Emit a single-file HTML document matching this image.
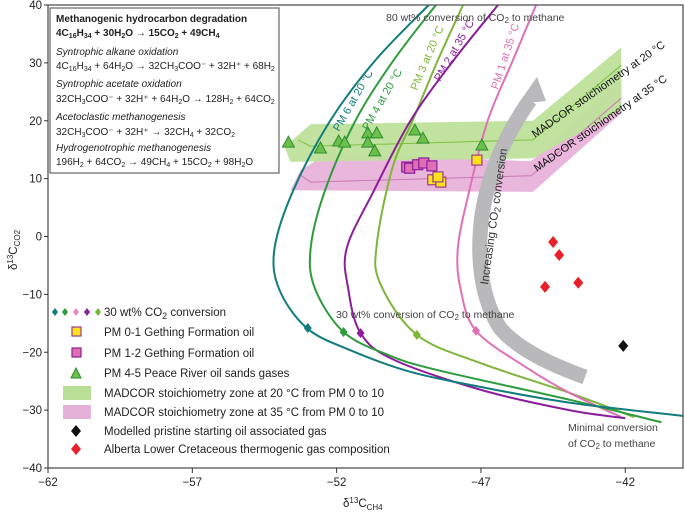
<!DOCTYPE html>
<html><head><meta charset="utf-8"><style>
html,body{margin:0;padding:0;background:#fff;}
svg{display:block;font-family:"Liberation Sans",Arial,sans-serif;}
</style></head><body>
<svg id="chart" width="685" height="517" viewBox="0 0 685 517">
<g id="bands"></g>
<path d="M585,377 C560,368 520,352 500,328 C482,300 476,260 482,215 C488,175 505,135 530,100" fill="none" stroke="#b9b9bb" stroke-width="15"/>
<polygon points="518,104 546,101 537,77" fill="#b9b9bb"/>
<text transform="translate(488,285) rotate(-82)" font-size="11.5" fill="#333">Increasing CO<tspan font-size="9" dy="2">2</tspan><tspan dy="-2"> conversion</tspan></text>
<g id="curves"></g>
<g id="points"></g>
<g id="axes"></g>
<text transform="translate(339,132) rotate(-60)" font-size="11" fill="#137c7c">PM 6 at 20 °C</text>
<text transform="translate(368,131) rotate(-60)" font-size="11" fill="#2e9b3c">PM 4 at 20 °C</text>
<text transform="translate(417,91) rotate(-67)" font-size="11" fill="#7fb53a">PM 3 at 20 °C</text>
<text transform="translate(440,82) rotate(-60)" font-size="11" fill="#8b1e9a">PM 2 at 35 °C</text>
<text transform="translate(498,90) rotate(-72)" font-size="11" fill="#e070b5">PM 1 at 35 °C</text>
<text transform="translate(535,138) rotate(-35)" font-size="11" fill="#111">MADCOR stoichiometry at 20 °C</text>
<text transform="translate(537,172) rotate(-35)" font-size="11" fill="#111">MADCOR stoichiometry at 35 °C</text>
<text x="386" y="21" font-size="10.5" fill="#444">80 wt% conversion of CO<tspan font-size="8" dy="2">2</tspan><tspan dy="-2"> to methane</tspan></text>
<text x="336" y="318" font-size="10.5" fill="#444">30 wt% conversion of CO<tspan font-size="8" dy="2">2</tspan><tspan dy="-2"> to methane</tspan></text>
<text x="568" y="431" font-size="10.5" fill="#444">Minimal conversion</text>
<text x="568" y="447" font-size="10.5" fill="#444">of CO<tspan font-size="8" dy="2">2</tspan><tspan dy="-2"> to methane</tspan></text>
<g font-size="10" fill="#222">
<rect x="50" y="8" width="229" height="165" fill="#fff" stroke="#666" stroke-width="1.2"/>
<text x="56" y="22" font-weight="bold">Methanogenic hydrocarbon degradation</text>
<text x="56" y="36" font-weight="bold">4C<tspan font-size="7" dy="2">16</tspan><tspan dy="-2">H</tspan><tspan font-size="7" dy="2">34</tspan><tspan dy="-2"> + 30H</tspan><tspan font-size="7" dy="2">2</tspan><tspan dy="-2">O → 15CO</tspan><tspan font-size="7" dy="2">2</tspan><tspan dy="-2"> + 49CH</tspan><tspan font-size="7" dy="2">4</tspan></text>
<text x="56" y="55" font-style="italic">Syntrophic alkane oxidation</text>
<text x="56" y="69">4C<tspan font-size="7" dy="2">16</tspan><tspan dy="-2">H</tspan><tspan font-size="7" dy="2">34</tspan><tspan dy="-2"> + 64H</tspan><tspan font-size="7" dy="2">2</tspan><tspan dy="-2">O → 32CH</tspan><tspan font-size="7" dy="2">3</tspan><tspan dy="-2">COO⁻ + 32H⁺ + 68H</tspan><tspan font-size="7" dy="2">2</tspan></text>
<text x="56" y="87" font-style="italic">Syntrophic acetate oxidation</text>
<text x="56" y="102">32CH<tspan font-size="7" dy="2">3</tspan><tspan dy="-2">COO⁻ + 32H⁺ + 64H</tspan><tspan font-size="7" dy="2">2</tspan><tspan dy="-2">O → 128H</tspan><tspan font-size="7" dy="2">2</tspan><tspan dy="-2"> + 64CO</tspan><tspan font-size="7" dy="2">2</tspan></text>
<text x="56" y="120" font-style="italic">Acetoclastic methanogenesis</text>
<text x="56" y="135">32CH<tspan font-size="7" dy="2">3</tspan><tspan dy="-2">COO⁻ + 32H⁺ → 32CH</tspan><tspan font-size="7" dy="2">4</tspan><tspan dy="-2"> + 32CO</tspan><tspan font-size="7" dy="2">2</tspan></text>
<text x="56" y="151" font-style="italic">Hydrogenotrophic methanogenesis</text>
<text x="56" y="165">196H<tspan font-size="7" dy="2">2</tspan><tspan dy="-2"> + 64CO</tspan><tspan font-size="7" dy="2">2</tspan><tspan dy="-2"> → 49CH</tspan><tspan font-size="7" dy="2">4</tspan><tspan dy="-2"> + 15CO</tspan><tspan font-size="7" dy="2">2</tspan><tspan dy="-2"> + 98H</tspan><tspan font-size="7" dy="2">2</tspan><tspan dy="-2">O</tspan></text>
</g>
<g font-size="11.5" fill="#222">
<g>
<path d="M55,308 l3,4 l-3,4 l-3,-4z" fill="#137c7c"/><path d="M65,308 l3,4 l-3,4 l-3,-4z" fill="#2e9b3c"/><path d="M76,308 l3,4 l-3,4 l-3,-4z" fill="#e58cc6"/><path d="M87,308 l3,4 l-3,4 l-3,-4z" fill="#8b1e9a"/><path d="M98,308 l3,4 l-3,4 l-3,-4z" fill="#7fb53a"/>
<text x="104" y="316">30 wt% CO<tspan font-size="9" dy="3">2</tspan><tspan dy="-3"> conversion</tspan></text></g>
<g><rect x="72" y="327" width="9" height="9" fill="#ffe21a" stroke="#9a3c8c" stroke-width="1.2"/><text x="104" y="336">PM 0-1 Gething Formation oil</text></g>
<g><rect x="72" y="348" width="9" height="9" fill="#e070b5" stroke="#8b1e9a" stroke-width="1.2"/><text x="104" y="357">PM 1-2 Gething Formation oil</text></g>
<g><polygon points="71,378 76,368 81,378" fill="#6cbf4a" stroke="#2e8b2e"/><text x="104" y="377">PM 4-5 Peace River oil sands gases</text></g>
<g><rect x="63" y="386" width="28" height="14" fill="#b9de95"/><text x="104" y="397">MADCOR stoichiometry zone at 20 °C from PM 0 to 10</text></g>
<g><rect x="63" y="405" width="28" height="14" fill="#e4b1d8"/><text x="104" y="416">MADCOR stoichiometry zone at 35 °C from PM 0 to 10</text></g>
<g><path d="M76,425 l5,6 l-5,6 l-5,-6z" fill="#111"/><text x="104" y="435">Modelled pristine starting oil associated gas</text></g>
<g><path d="M76,443 l5,6 l-5,6 l-5,-6z" fill="#e8202a"/><text x="104" y="453">Alberta Lower Cretaceous thermogenic gas composition</text></g>
</g>
<text x="343" y="507" font-size="11.5" fill="#222">δ<tspan font-size="8" dy="-4">13</tspan><tspan dy="4">C</tspan><tspan font-size="8" dy="3">CH4</tspan></text>
<text transform="translate(17,270) rotate(-90)" font-size="11.5" fill="#222">δ<tspan font-size="8" dy="-4">13</tspan><tspan dy="4">C</tspan><tspan font-size="8" dy="3">CO2</tspan></text>
</svg>
<script>
var xTicks=[-62,-57,-52,-47,-42];
var yTicks=[40,30,20,10,0,-10,-20,-30,-40];
var pm6=[[-48.81,40],[-50.65,30.5],[-52.21,20.1],[-53.5,8],[-54.15,-2],[-54.0,-9],[-53.04,-15.8],[-51.55,-19.6],[-49.43,-23.4],[-47,-26],[-43.94,-28.7],[-40,-31]];
var pm4=[[-48.56,40],[-50.02,30.5],[-51.34,20.1],[-52.4,8],[-52.9,-2],[-52.75,-9],[-51.76,-16.5],[-50.2,-20.5],[-48.49,-23.1],[-43.94,-28.2],[-40.75,-32.1]];
var pm3=[[-47.62,40],[-48.49,30.5],[-49.36,20.1],[-50.06,12],[-50.6,-1],[-50.5,-8],[-49.22,-17],[-47,-21.9],[-43.94,-27],[-41.69,-31.2]];
var pm2=[[-46.41,40],[-47.94,30.5],[-49.43,20.1],[-50.7,8],[-51.65,-2],[-51.6,-9],[-51.17,-16.7],[-50.02,-21.3],[-47,-26.5],[-43.94,-30],[-42,-31.4]];
var pm1=[[-45.09,40],[-45.89,30.5],[-46.76,20.1],[-47.4,8],[-47.8,-2],[-47.7,-9.2],[-47.17,-16.3],[-45.47,-22.5],[-43.94,-27],[-42.14,-31.2]];
var diamonds30=[[-53.0,-15.8],[-51.76,-16.5],[-51.17,-16.7],[-49.22,-17],[-47.17,-16.3]];
var greenBand=[[-52.9,19.4],[-45.2,20.0],[-42.14,32.7],[-42.14,21.9],[-45.2,13.5],[-53.6,12.9],[-53.8,15.5]];
var pinkBand=[[-52.28,14.4],[-45.26,13.0],[-42.14,27.0],[-42.14,21.3],[-45.2,7.7],[-53.6,8.0],[-53.25,11.5]];
var greenLine=[[-53.35,16.7],[-52.9,15.6],[-45.2,16.7],[-42.14,29.6]];
var pinkLine=[[-53.25,10.6],[-52.9,9.4],[-45.26,10.5],[-42.14,23.9]];
var triangles=[[-53.67,16.3],[-52.56,15.3],[-51.93,16.5],[-51.72,16.3],[-50.92,17.9],[-50.61,17.9],[-50.92,16.3],[-50.68,14.8],[-49.29,18.4],[-49.01,17.0],[-46.97,15.8]];
var magentaSq=[[-49.57,12.0],[-49.47,11.8],[-49.19,12.4],[-48.98,12.7],[-48.70,12.2]];
var yellowSq=[[-48.67,9.8],[-48.39,9.4],[-48.49,10.3],[-47.14,13.2]];
var redPts=[[-44.5,-0.95],[-44.29,-3.2],[-44.78,-8.7],[-43.63,-8.0]];
var blackPts=[[-42.07,-18.9]];

var X0=48,X1=683,Y0=5,Y1=468,XMIN=-62,XMAX=-40,YMIN=-40,YMAX=40;
function sx(v){return X0+(v-XMIN)/(XMAX-XMIN)*(X1-X0);}
function sy(v){return Y1-(v-YMIN)/(YMAX-YMIN)*(Y1-Y0);}
var NS="http://www.w3.org/2000/svg";
function mk(tag,parent){var e=document.createElementNS(NS,tag);parent.appendChild(e);return e;}
function smooth(pts){var p=pts.map(function(d){return [sx(d[0]),sy(d[1])];});var s="M"+p[0][0]+","+p[0][1];
for(var i=0;i<p.length-1;i++){var a=p[i-1]||p[i],b=p[i],c=p[i+1],d=p[i+2]||c;
s+=" C"+(b[0]+(c[0]-a[0])/6)+","+(b[1]+(c[1]-a[1])/6)+" "+(c[0]-(d[0]-b[0])/6)+","+(c[1]-(d[1]-b[1])/6)+" "+c[0]+","+c[1];}return s;}
function poly(pts){return pts.map(function(d){return sx(d[0])+","+sy(d[1]);}).join(" ");}
var bands=document.getElementById('bands');
var pb=mk('polygon',bands);pb.setAttribute('points',poly(pinkBand));pb.setAttribute('fill','#eab7dc');


var gb=mk('polygon',bands);gb.setAttribute('points',poly(greenBand));gb.setAttribute('fill','#bfe19b');gb.setAttribute('opacity','0.95');


var pl=mk('polyline',bands);pl.setAttribute('points',poly(pinkLine));pl.setAttribute('fill','none');pl.setAttribute('stroke','#c77ab5');


var gl=mk('polyline',bands);gl.setAttribute('points',poly(greenLine));gl.setAttribute('fill','none');gl.setAttribute('stroke','#7cc043');



var curves=document.getElementById('curves');
var series=[[pm3,'#7fb53a','pm3-curve'],[pm1,'#e070b5','pm1-curve'],[pm2,'#8b1e9a','pm2-curve'],[pm4,'#2e9b3c','pm4-curve'],[pm6,'#137c7c','pm6-curve']];
series.forEach(function(s){var p=mk('path',curves);p.setAttribute('d',smooth(s[0]));p.setAttribute('fill','none');p.setAttribute('stroke',s[1]);p.setAttribute('stroke-width','2');

});
var dcol=['#137c7c','#2e9b3c','#8b1e9a','#7fb53a','#e070b5'];
var pts=document.getElementById('points');
diamonds30.forEach(function(d,i){var e=mk('path',pts);var x=sx(d[0]),y=sy(d[1]);e.setAttribute('d','M'+x+','+(y-5)+' l4,5 l-4,5 l-4,-5z');e.setAttribute('fill',dcol[i]);

});
triangles.forEach(function(d){var e=mk('polygon',pts);var x=sx(d[0]),y=sy(d[1]);e.setAttribute('points',(x-6)+','+(y+5)+' '+x+','+(y-6)+' '+(x+6)+','+(y+5));e.setAttribute('fill','#6cbf4a');e.setAttribute('stroke','#2e8b2e');

});
function sq(arr,fill,stroke,name){arr.forEach(function(d){var e=mk('rect',pts);e.setAttribute('x',sx(d[0])-5);e.setAttribute('y',sy(d[1])-5);e.setAttribute('width',10);e.setAttribute('height',10);e.setAttribute('fill',fill);e.setAttribute('stroke',stroke);e.setAttribute('stroke-width','1.2');

});}
sq(magentaSq,'#e070b5','#8b1e9a','square-pm12');
sq(yellowSq,'#ffe21a','#9a3c8c','square-pm01');
function dia(arr,fill,name){arr.forEach(function(d){var e=mk('path',pts);var x=sx(d[0]),y=sy(d[1]);e.setAttribute('d','M'+x+','+(y-6)+' l5,6 l-5,6 l-5,-6z');e.setAttribute('fill',fill);

});}
dia(redPts,'#e8202a','alberta-gas-point');
dia(blackPts,'#111','pristine-gas-point');

var ax=document.getElementById('axes');
var fr=mk('rect',ax);fr.setAttribute('x',X0);fr.setAttribute('y',Y0);fr.setAttribute('width',X1-X0);fr.setAttribute('height',Y1-Y0);fr.setAttribute('fill','none');fr.setAttribute('stroke','#555');fr.setAttribute('stroke-width','1.3');


xTicks.forEach(function(t){var l=mk('line',ax);l.setAttribute('x1',sx(t));l.setAttribute('x2',sx(t));l.setAttribute('y1',Y1);l.setAttribute('y2',Y1+5);l.setAttribute('stroke','#333');


var tx=mk('text',ax);tx.setAttribute('x',sx(t));tx.setAttribute('y',Y1+18);tx.setAttribute('text-anchor','middle');tx.setAttribute('font-size','11.5');tx.setAttribute('fill','#222');tx.textContent=String(t).replace('-','−');

});
yTicks.forEach(function(t){var l=mk('line',ax);l.setAttribute('x1',X0-4);l.setAttribute('x2',X0);l.setAttribute('y1',sy(t));l.setAttribute('y2',sy(t));l.setAttribute('stroke','#333');


var tx=mk('text',ax);tx.setAttribute('x',X0-6);tx.setAttribute('y',sy(t)+4);tx.setAttribute('text-anchor','end');tx.setAttribute('font-size','11.5');tx.setAttribute('fill','#222');tx.textContent=String(t).replace('-','−');

});
</script>
</body></html>
